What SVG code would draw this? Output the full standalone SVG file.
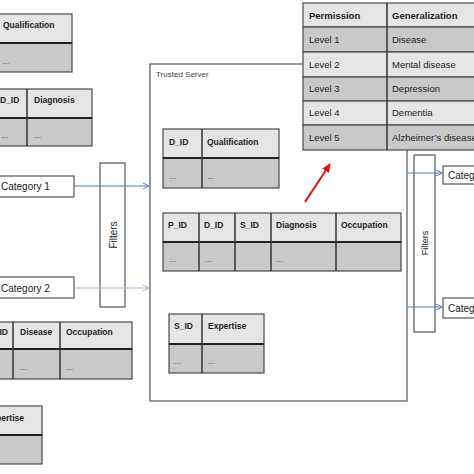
<svg xmlns="http://www.w3.org/2000/svg" width="474" height="474" viewBox="0 0 474 474">
<style>
.hdr{fill:#e5e5e5;stroke:#4a4a4a;stroke-width:1.2}
.dat{fill:#c9c9c9;stroke:#4a4a4a;stroke-width:1.2}
.sep{stroke:#222;stroke-width:2}
.col{stroke:#333;stroke-width:1.5}
.t{font-family:"Liberation Sans",Arial,sans-serif;font-size:8.5px;fill:#222}
.tb{font-family:"Liberation Sans",Arial,sans-serif;font-size:8.5px;fill:#222;font-weight:bold}
.pt{font-family:"Liberation Sans",Arial,sans-serif;font-size:9.5px;fill:#222}
.ptb{font-family:"Liberation Sans",Arial,sans-serif;font-size:9.5px;fill:#222;font-weight:bold}
.dots{font-family:"Liberation Sans",Arial,sans-serif;font-size:8.5px;fill:#555}
.box{fill:#fff;stroke:#555;stroke-width:1.2}
.lbl{font-family:"Liberation Sans",Arial,sans-serif;font-size:10px;fill:#222}
.a1{stroke:#4a7ebb;stroke-width:1;fill:none}
.a2{stroke:#9bb3dc;stroke-width:1;fill:none}
</style>
<defs>
<marker id="ah1" markerWidth="8" markerHeight="8" refX="7" refY="4" orient="auto" markerUnits="userSpaceOnUse">
<path d="M1,1 L7,4 L1,7" fill="none" stroke="#4a7ebb" stroke-width="1"/>
</marker>
<marker id="ah2" markerWidth="8" markerHeight="8" refX="7" refY="4" orient="auto" markerUnits="userSpaceOnUse">
<path d="M1,1 L7,4 L1,7" fill="none" stroke="#9bb3dc" stroke-width="1"/>
</marker>
<marker id="ahr" markerWidth="10" markerHeight="10" refX="8" refY="5" orient="auto" markerUnits="userSpaceOnUse">
<path d="M0,1 L9,5 L0,9 Z" fill="#e01010"/>
</marker>
</defs>
<rect width="474" height="474" fill="#fff"/>

<g id="trusted-server">
<rect x="150" y="64" width="257" height="337" class="box"/>
<text x="156" y="77" class="t" style="font-size:8px;fill:#444">Trusted Server</text>
</g>

<g id="tbl-left-qual">
<rect x="-10" y="14" width="82" height="29" class="hdr"/>
<rect x="-10" y="43" width="82" height="29" class="dat"/>
<line x1="-10" y1="43" x2="72" y2="43" class="sep"/>
<text x="3" y="28" class="tb">Qualification</text>
<text x="2" y="64" class="dots">...</text>
</g>

<g id="tbl-left-diag">
<rect x="-10" y="89" width="102" height="29" class="hdr"/>
<rect x="-10" y="118" width="102" height="28" class="dat"/>
<line x1="-10" y1="118" x2="92" y2="118" class="sep"/>
<line x1="27" y1="89" x2="27" y2="146" class="col"/>
<text x="0" y="103" class="tb">D_ID</text>
<text x="34" y="103" class="tb">Diagnosis</text>
<text x="1" y="138" class="dots">...</text>
<text x="34" y="138" class="dots">...</text>
</g>

<g id="cat1-left">
<rect x="-10" y="176" width="84" height="21" class="box"/>
<text x="1" y="190" class="lbl">Category 1</text>
</g>
<g id="cat2-left">
<rect x="-10" y="277" width="84" height="21" class="box"/>
<text x="1" y="292" class="lbl">Category 2</text>
</g>

<g id="filters-left">
<rect x="100" y="163" width="25" height="144" class="box"/>
<text transform="translate(117,235) rotate(-90)" text-anchor="middle" class="lbl">Filters</text>
</g>

<g id="tbl-left-disease">
<rect x="-10" y="322" width="142" height="27" class="hdr"/>
<rect x="-10" y="349" width="142" height="30" class="dat"/>
<line x1="-10" y1="349" x2="132" y2="349" class="sep"/>
<line x1="13" y1="322" x2="13" y2="379" class="col"/>
<line x1="60" y1="322" x2="60" y2="379" class="col"/>
<text x="8" y="335" text-anchor="end" class="tb">P_ID</text>
<text x="20" y="335" class="tb">Disease</text>
<text x="66" y="335" class="tb">Occupation</text>
<text x="20" y="370" class="dots">...</text>
<text x="66" y="370" class="dots">...</text>
</g>

<g id="tbl-left-expertise">
<rect x="-10" y="406" width="52" height="29" class="hdr"/>
<rect x="-10" y="435" width="52" height="29" class="dat"/>
<line x1="-10" y1="435" x2="42" y2="435" class="sep"/>
<text x="24" y="421" text-anchor="end" class="tb">Expertise</text>
</g>

<g id="tbl-in-qual">
<rect x="163" y="129" width="116" height="29" class="hdr"/>
<rect x="163" y="158" width="116" height="30" class="dat"/>
<line x1="163" y1="158" x2="279" y2="158" class="sep"/>
<line x1="202" y1="129" x2="202" y2="188" class="col"/>
<text x="169" y="145" class="tb">D_ID</text>
<text x="207" y="145" class="tb">Qualification</text>
<text x="169" y="179" class="dots">...</text>
<text x="207" y="179" class="dots">...</text>
</g>

<g id="tbl-in-main">
<rect x="163" y="213" width="238" height="29" class="hdr"/>
<rect x="163" y="242" width="238" height="29" class="dat"/>
<line x1="163" y1="242" x2="401" y2="242" class="sep"/>
<line x1="199" y1="213" x2="199" y2="271" class="col"/>
<line x1="235" y1="213" x2="235" y2="271" class="col"/>
<line x1="271" y1="213" x2="271" y2="271" class="col"/>
<line x1="336" y1="213" x2="336" y2="271" class="col"/>
<text x="168" y="228" class="tb">P_ID</text>
<text x="204" y="228" class="tb">D_ID</text>
<text x="240" y="228" class="tb">S_ID</text>
<text x="276" y="228" class="tb">Diagnosis</text>
<text x="341" y="228" class="tb">Occupation</text>
<text x="169" y="262" class="dots">...</text>
<text x="205" y="262" class="dots">...</text>
<text x="276" y="262" class="dots">...</text>
</g>

<g id="tbl-in-expertise">
<rect x="169" y="314" width="95" height="30" class="hdr"/>
<rect x="169" y="344" width="95" height="29" class="dat"/>
<line x1="169" y1="344" x2="264" y2="344" class="sep"/>
<line x1="202" y1="314" x2="202" y2="373" class="col"/>
<text x="174" y="329" class="tb">S_ID</text>
<text x="208" y="329" class="tb">Expertise</text>
<text x="174" y="364" class="dots">...</text>
<text x="208" y="364" class="dots">...</text>
</g>

<g id="tbl-permission">
<rect x="303" y="3" width="180" height="24" class="hdr"/>
<rect x="303" y="27" width="180" height="25" class="dat"/>
<rect x="303" y="52" width="180" height="25" class="hdr"/>
<rect x="303" y="77" width="180" height="24" class="dat"/>
<rect x="303" y="101" width="180" height="24" class="hdr"/>
<rect x="303" y="125" width="180" height="25" class="dat"/>
<line x1="387" y1="3" x2="387" y2="150" class="col"/>
<text x="309" y="19" class="ptb">Permission</text>
<text x="392" y="19" class="ptb">Generalization</text>
<text x="309" y="43" class="pt">Level 1</text>
<text x="392" y="43" class="pt">Disease</text>
<text x="309" y="68" class="pt">Level 2</text>
<text x="392" y="68" class="pt">Mental disease</text>
<text x="309" y="92" class="pt">Level 3</text>
<text x="392" y="92" class="pt">Depression</text>
<text x="309" y="116" class="pt">Level 4</text>
<text x="392" y="116" class="pt">Dementia</text>
<text x="309" y="141" class="pt">Level 5</text>
<text x="392" y="141" class="pt">Alzheimer’s disease</text>
</g>

<g id="filters-right">
<rect x="414" y="155" width="21" height="177" class="box"/>
<text transform="translate(428,243) rotate(-90)" text-anchor="middle" class="lbl" style="font-size:9px">Filters</text>
</g>
<g id="cat1-right">
<rect x="443" y="166" width="45" height="18" class="box"/>
<text x="448" y="179" class="lbl">Category 1</text>
</g>
<g id="cat2-right">
<rect x="443" y="298" width="45" height="20" class="box"/>
<text x="448" y="312" class="lbl">Category 2</text>
</g>

<g id="connectors">
<line x1="74" y1="186" x2="149" y2="186" class="a1" marker-end="url(#ah1)"/>
<line x1="74" y1="288" x2="149" y2="288" class="a2" marker-end="url(#ah2)"/>
<line x1="407" y1="173" x2="442" y2="173" class="a1" marker-end="url(#ah1)"/>
<line x1="407" y1="307" x2="442" y2="307" class="a1" marker-end="url(#ah1)"/>
<line x1="305" y1="202" x2="330" y2="164" stroke="#e01010" stroke-width="2" marker-end="url(#ahr)"/>
</g>
</svg>
